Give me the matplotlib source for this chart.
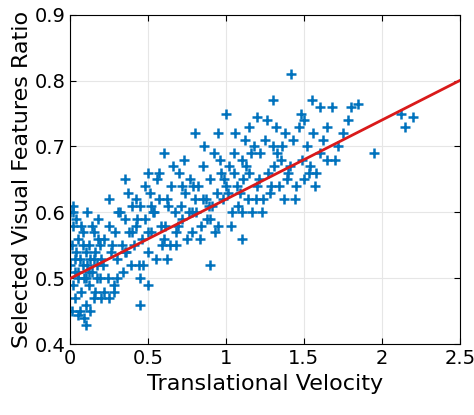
import matplotlib
matplotlib.use("Agg")
import matplotlib.pyplot as plt
import numpy as np

# Approximate points read from the reference cloud
vel = [0.00,0.01,0.02,0.02,0.03,0.03,0.04,0.05,0.05,0.06,0.07,0.08,0.08,0.09,0.10,0.10,0.11,0.12,0.12,0.13,0.14,0.15,0.15,0.16,0.17,0.18,0.19,0.20,
       0.00,0.01,0.02,0.04,0.06,0.07,0.09,0.11,0.13,0.14,0.16,0.18,0.20,0.03,0.05,0.08,0.10,0.12,0.15,0.17,0.19,
       0.21,0.22,0.24,0.25,0.26,0.28,0.29,0.30,0.31,0.33,0.34,0.35,0.36,0.38,0.39,0.40,0.22,0.25,0.27,0.30,0.32,0.35,0.37,0.40,
       0.41,0.42,0.44,0.45,0.46,0.48,0.50,0.51,0.52,0.54,0.55,0.57,0.58,0.60,0.42,0.45,0.48,0.50,0.53,0.56,0.59,0.43,0.47,0.52,0.57,
       0.61,0.62,0.64,0.65,0.67,0.68,0.70,0.71,0.72,0.74,0.75,0.77,0.78,0.80,0.62,0.66,0.69,0.73,0.76,0.79,0.63,0.68,0.72,0.78,
       0.81,0.82,0.84,0.85,0.87,0.88,0.90,0.91,0.92,0.94,0.95,0.97,0.98,1.00,0.83,0.86,0.89,0.93,0.96,0.99,0.85,0.90,0.95,
       1.01,1.02,1.04,1.05,1.07,1.08,1.10,1.11,1.12,1.14,1.15,1.17,1.18,1.20,1.03,1.06,1.09,1.13,1.16,1.19,1.05,1.10,1.15,
       1.21,1.22,1.24,1.25,1.27,1.28,1.30,1.31,1.32,1.34,1.35,1.37,1.38,1.40,1.23,1.26,1.29,1.33,1.36,1.39,
       1.41,1.43,1.45,1.47,1.49,1.50,1.52,1.54,1.56,1.58,1.60,1.62,1.65,1.44,1.48,1.53,1.57,
       0.35,0.50,0.45,0.90,1.10,0.28,0.25,0.05,0.10,0.02,0.50,0.60,0.80,1.00,1.20,1.30,
       1.42,2.12,2.20,2.15,1.95,1.75,1.80,1.85,1.68,1.60,1.55,1.70,1.65,1.72,1.78,1.50]
ratio = [0.52,0.55,0.49,0.58,0.51,0.47,0.54,0.50,0.56,0.53,0.48,0.52,0.57,0.50,0.54,0.46,0.52,0.55,0.49,0.53,0.51,0.57,0.47,0.54,0.52,0.56,0.50,0.53,
         0.60,0.45,0.60,0.59,0.45,0.58,0.44,0.60,0.45,0.58,0.48,0.59,0.47,0.53,0.51,0.55,0.50,0.51,0.53,0.50,0.55,
         0.52,0.56,0.50,0.58,0.54,0.49,0.57,0.53,0.60,0.55,0.51,0.59,0.54,0.57,0.52,0.61,0.48,0.62,0.55,0.50,0.60,0.54,0.63,0.57,
         0.55,0.58,0.52,0.61,0.56,0.59,0.54,0.63,0.57,0.60,0.53,0.62,0.58,0.56,0.62,0.50,0.64,0.57,0.60,0.65,0.55,0.59,0.52,0.61,0.66,
         0.58,0.62,0.55,0.64,0.60,0.57,0.66,0.61,0.59,0.63,0.56,0.65,0.60,0.62,0.53,0.67,0.58,0.68,0.60,0.64,0.61,0.55,0.64,0.57,
         0.60,0.64,0.58,0.67,0.62,0.59,0.65,0.61,0.69,0.63,0.58,0.66,0.62,0.64,0.56,0.70,0.61,0.57,0.68,0.65,0.62,0.59,0.72,
         0.63,0.67,0.60,0.69,0.64,0.61,0.68,0.65,0.71,0.62,0.66,0.60,0.70,0.64,0.58,0.72,0.63,0.67,0.69,0.62,0.66,0.60,0.73,
         0.65,0.69,0.62,0.71,0.66,0.63,0.70,0.67,0.73,0.64,0.68,0.62,0.72,0.66,0.60,0.74,0.64,0.69,0.70,0.65,
         0.67,0.71,0.64,0.73,0.68,0.65,0.70,0.67,0.72,0.66,0.69,0.71,0.68,0.62,0.75,0.66,0.64,
         0.65,0.49,0.46,0.52,0.56,0.48,0.47,0.445,0.43,0.61,0.66,0.69,0.72,0.75,0.745,0.77,
         0.81,0.75,0.745,0.73,0.69,0.72,0.76,0.765,0.76,0.76,0.77,0.68,0.73,0.70,0.74,0.74]
fit_x = [0, 2.5]
fit_y = [0.5, 0.8]

fig = plt.figure(figsize=(4.74, 4.15), dpi=100)
ax = fig.add_axes([0.148, 0.17, 0.822, 0.795])
ax.scatter(vel, ratio, marker='+', s=45, linewidths=1.8, color='#0072BD', zorder=2)
ax.plot(fit_x, fit_y, color='#D91A1A', lw=2, zorder=3)
ax.set_xlim(0, 2.5)
ax.set_ylim(0.4, 0.9)
ax.set_xticks([0, 0.5, 1, 1.5, 2, 2.5])
ax.set_xticklabels(['0', '0.5', '1', '1.5', '2', '2.5'])
ax.set_yticks([0.4, 0.5, 0.6, 0.7, 0.8, 0.9])
ax.grid(True, color='#e6e6e6', lw=0.8, zorder=0)
ax.set_axisbelow(True)
ax.tick_params(labelsize=14, direction='in', length=4, top=True, right=True)
ax.set_xlabel('Translational Velocity', fontsize=16)
ax.set_ylabel('Selected Visual Features Ratio', fontsize=16, labelpad=2)
for s in ax.spines.values():
    s.set_linewidth(0.8)
fig.savefig('out.png', dpi=100)
